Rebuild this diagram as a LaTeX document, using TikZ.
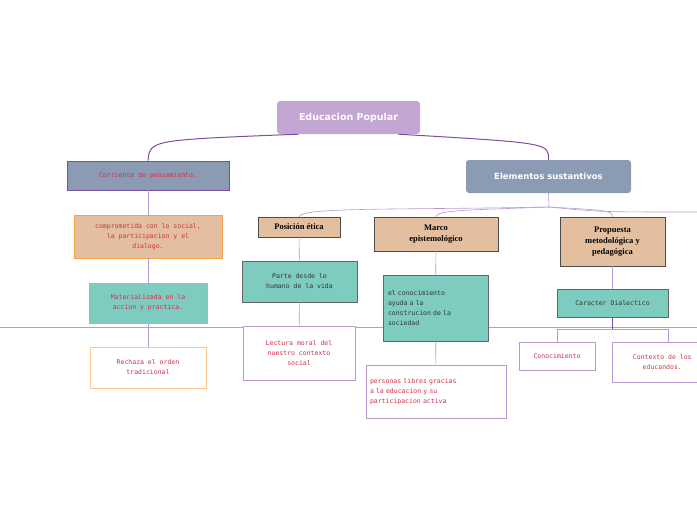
\documentclass[tikz,border=0pt]{standalone}
\usepackage{fontspec}
\setmainfont{DejaVu Sans}
\newfontfamily\monof{DejaVu Sans Mono}
\newfontfamily\serf{Liberation Serif}
\begin{document}
\definecolor{lav}{HTML}{C3A6D3}
\definecolor{slate}{HTML}{8A9BB3}
\definecolor{tan}{HTML}{E3BFA0}
\definecolor{teal}{HTML}{7ECCBF}
\definecolor{pur}{HTML}{7A4FA0}
\definecolor{lpur}{HTML}{B99AD0}
\definecolor{org}{HTML}{F5A24A}
\definecolor{redt}{HTML}{D0304A}
\begin{tikzpicture}[x=1pt,y=-1pt,
 box/.style={draw,line width=0.6pt,inner sep=0pt,align=center,font=\monof\fontsize{6.5}{10}\selectfont},
 head/.style={draw=black!70,fill=tan,inner sep=0pt,align=center,font=\serf\bfseries\fontsize{8.5}{11}\selectfont},
 lk/.style={draw=lpur,line width=0.6pt},
 blk/.style={draw=pur,line width=1pt}]
\useasboundingbox (0,0) rectangle (697,520);
\draw[lk] (0,327) -- (697,327);
% root
\node[fill=lav,rounded corners=3pt,minimum width=143pt,minimum height=33pt,text=white,font=\bfseries\fontsize{9.5}{11}\selectfont] (root) at (348.5,117.5) {Educacion Popular};
\node[box,fill=slate,draw=pur,text=redt,minimum width=162pt,minimum height=29pt] (cor) at (148,175.5) {Corriente de pensamiento.};
\node[fill=slate,rounded corners=3pt,minimum width=165pt,minimum height=33pt,text=white,font=\bfseries\fontsize{8.5}{11}\selectfont] (ele) at (548.5,176.5) {Elementos sustantivos};
\draw[blk] (root.south) ++(-50,0) coordinate (r1) .. controls (150,140) .. (cor.north);
\draw[blk] (root.south) ++(50,0) .. controls (549,143) .. (ele.north);
% left branch
\node[box,fill=tan,draw=org,text=redt,minimum width=148pt,minimum height=43pt] (com) at (148,236.5) {comprometida con lo social,\\la participacion y el\\dialogo.};
\node[box,fill=teal,draw=org,text=redt,minimum width=118pt,minimum height=40pt] (mat) at (148,303) {Materializada en la\\accion y practica.};
\node[box,fill=white,draw=org!60,text=redt,minimum width=116pt,minimum height=41pt] (rec) at (148,367.5) {Rechaza el orden\\tradicional};
\draw[lk] (cor) -- (com); \draw[lk] (com) -- (mat); \draw[lk] (mat) -- (rec);
% elementos children
\node[head,minimum width=82pt,minimum height=20pt] (pos) at (299,227) {Posición ética};
\node[head,minimum width=124pt,minimum height=34pt] (mar) at (436,234) {Marco\\epistemológico};
\node[head,minimum width=105pt,minimum height=49pt] (pro) at (612.5,241.5) {Propuesta\\metodológica y\\pedagógica};
\coordinate (eb) at (549,207);
\draw[lk] (ele.south) -- (eb);
\draw[lk] (eb) .. controls (400,210) and (300,207) .. (pos.north);
\draw[lk] (eb) .. controls (470,210) and (436,210) .. (mar.north);
\draw[lk] (eb) .. controls (600,210) and (613,210) .. (pro.north);
\coordinate (er) at (697,212);
\draw[lk] (eb) .. controls (600,212) .. (er);
\node[box,fill=teal,draw=black!60,text=black!80,minimum width=115pt,minimum height=41pt] (par) at (299.5,281.5) {Parte desde lo\\humano de la vida};
\node[box,fill=white,draw=lpur,text=redt,minimum width=112pt,minimum height=54pt] (lec) at (299,353) {Lectura moral del\\nuestro contexto\\social};
\draw[lk] (pos) -- (par); \draw[lk] (par) -- (lec);
\node[box,fill=teal,draw=black!60,text=black!80,minimum width=105pt,minimum height=66pt,align=left,text width=95pt] (con) at (435.5,308) {el conocimiento\\ayuda a la\\construcion de la\\sociedad};
\node[box,fill=white,draw=lpur,text=redt,minimum width=140pt,minimum height=53pt,align=left,text width=132pt] (per) at (436,391.5) {personas libres gracias\\a la educacion y su\\participacion activa};
\draw[lk] (mar) -- (con); \draw[lk] (con) -- (per);
\node[box,fill=teal,draw=black!60,text=black!80,minimum width=111pt,minimum height=28pt] (car) at (612.5,303) {Caracter Dialectico};
\draw[lk] (pro) -- (car);
\node[box,fill=white,draw=lpur,text=redt,minimum width=76pt,minimum height=28pt] (cono) at (557,356) {Conocimiento};
\node[box,fill=white,draw=lpur,text=redt,minimum width=100pt,minimum height=40pt,anchor=west] (ctx) at (612,362) {Contexto de los\\educandos.};
\draw[draw=pur,line width=0.8pt] (car.south) -- (612.5,329);
\draw[lk] (cono.north) -- (557,329) -- (668,329) -- (668,342);
\end{tikzpicture}
\end{document}
